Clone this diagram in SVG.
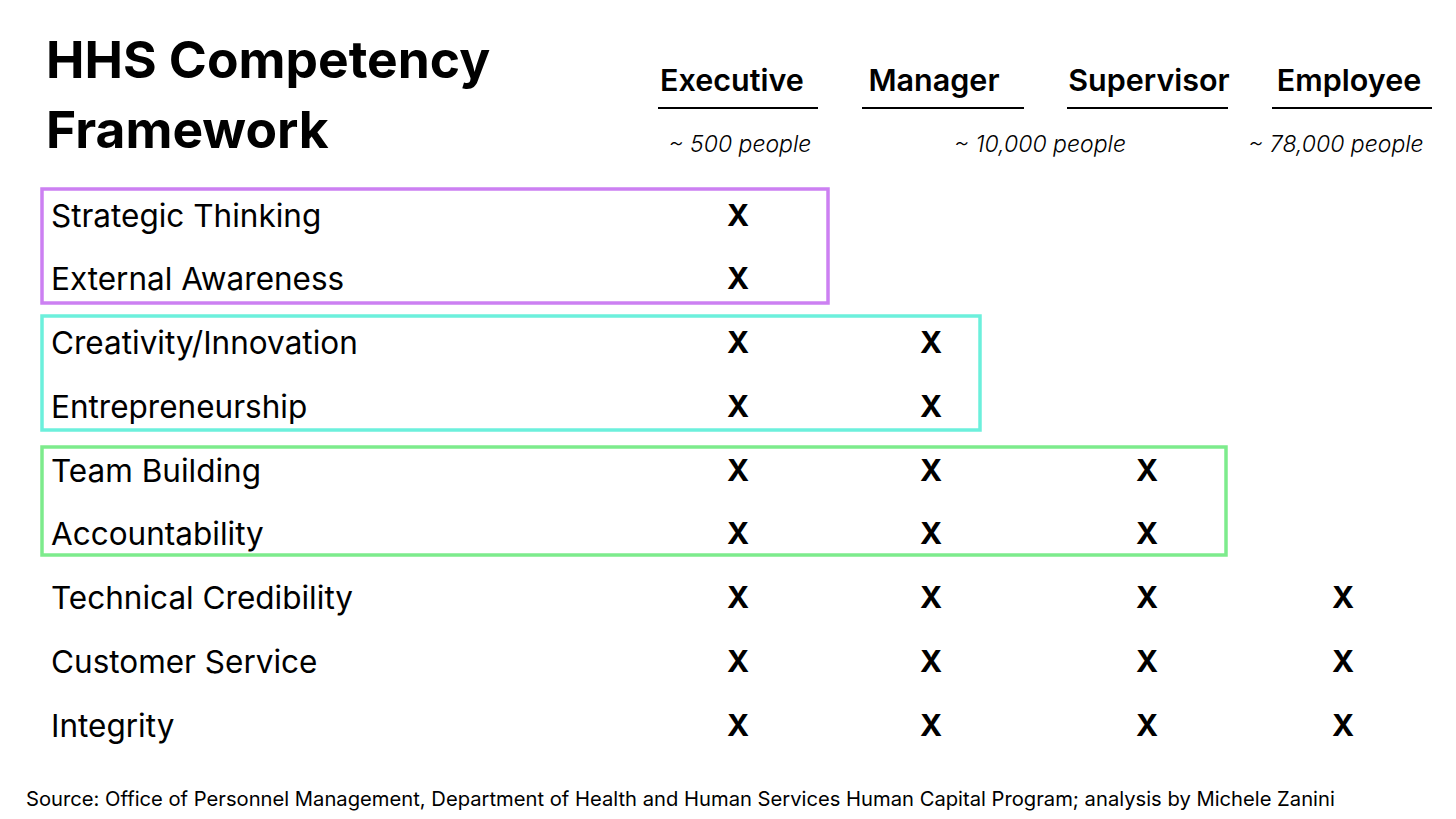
<svg xmlns="http://www.w3.org/2000/svg" width="1456" height="819" viewBox="0 0 1456 819">
<style>
text{font-family:Inter,"Liberation Sans",sans-serif;fill:#000}
.t{font-size:51.5px;font-weight:700}
.h{font-size:30.5px;font-weight:600;text-anchor:middle}
.s{font-size:23px;font-style:italic;text-anchor:middle;font-weight:300}
.r{font-size:31.5px}
.x{font-size:30px;font-weight:700;text-anchor:middle}
.u{stroke:#000;stroke-width:2}
.b{fill:none;stroke-width:3.5}
</style>
<rect width="1456" height="819" fill="#fff"/>
<text class="t" x="46" y="78">HHS Competency</text>
<text class="t" x="46" y="148">Framework</text>
<g id="headers">
<text class="h" x="732" y="91">Executive</text>
<text class="h" x="934" y="91">Manager</text>
<text class="h" x="1149" y="91">Supervisor</text>
<text class="h" x="1349" y="91">Employee</text>
<line class="u" x1="658" y1="108" x2="818" y2="108"/>
<line class="u" x1="862" y1="108" x2="1024" y2="108"/>
<line class="u" x1="1067" y1="108" x2="1228" y2="108"/>
<line class="u" x1="1272" y1="108" x2="1432" y2="108"/>
<text class="s" x="740" y="152">~ 500 people</text>
<text class="s" x="1040" y="152">~ 10,000 people</text>
<text class="s" x="1336" y="152">~ 78,000 people</text>
</g>
<g id="boxes">
<rect class="b" x="42" y="189" width="786" height="114" stroke="#cc80f2"/>
<rect class="b" x="42" y="316" width="938" height="114" stroke="#6cf0dc"/>
<rect class="b" x="42" y="447" width="1184" height="108" stroke="#7deb8c"/>
</g>
<g id="rows">
<text class="r" x="51" y="227">Strategic Thinking</text>
<text class="r" x="51" y="290">External Awareness</text>
<text class="r" x="51" y="354">Creativity/Innovation</text>
<text class="r" x="51" y="418">Entrepreneurship</text>
<text class="r" x="51" y="482">Team Building</text>
<text class="r" x="51" y="545">Accountability</text>
<text class="r" x="51" y="609">Technical Credibility</text>
<text class="r" x="51" y="673">Customer Service</text>
<text class="r" x="51" y="737">Integrity</text>
</g>
<g id="marks">
<text class="x" x="738" y="226">X</text>
<text class="x" x="738" y="289">X</text>
<text class="x" x="738" y="353">X</text><text class="x" x="931" y="353">X</text>
<text class="x" x="738" y="417">X</text><text class="x" x="931" y="417">X</text>
<text class="x" x="738" y="481">X</text><text class="x" x="931" y="481">X</text><text class="x" x="1147" y="481">X</text>
<text class="x" x="738" y="544">X</text><text class="x" x="931" y="544">X</text><text class="x" x="1147" y="544">X</text>
<text class="x" x="738" y="608">X</text><text class="x" x="931" y="608">X</text><text class="x" x="1147" y="608">X</text><text class="x" x="1343" y="608">X</text>
<text class="x" x="738" y="672">X</text><text class="x" x="931" y="672">X</text><text class="x" x="1147" y="672">X</text><text class="x" x="1343" y="672">X</text>
<text class="x" x="738" y="736">X</text><text class="x" x="931" y="736">X</text><text class="x" x="1147" y="736">X</text><text class="x" x="1343" y="736">X</text>
</g>
<text x="26" y="806" font-size="20.2">Source: Office of Personnel Management, Department of Health and Human Services Human Capital Program; analysis by Michele Zanini</text>
</svg>
